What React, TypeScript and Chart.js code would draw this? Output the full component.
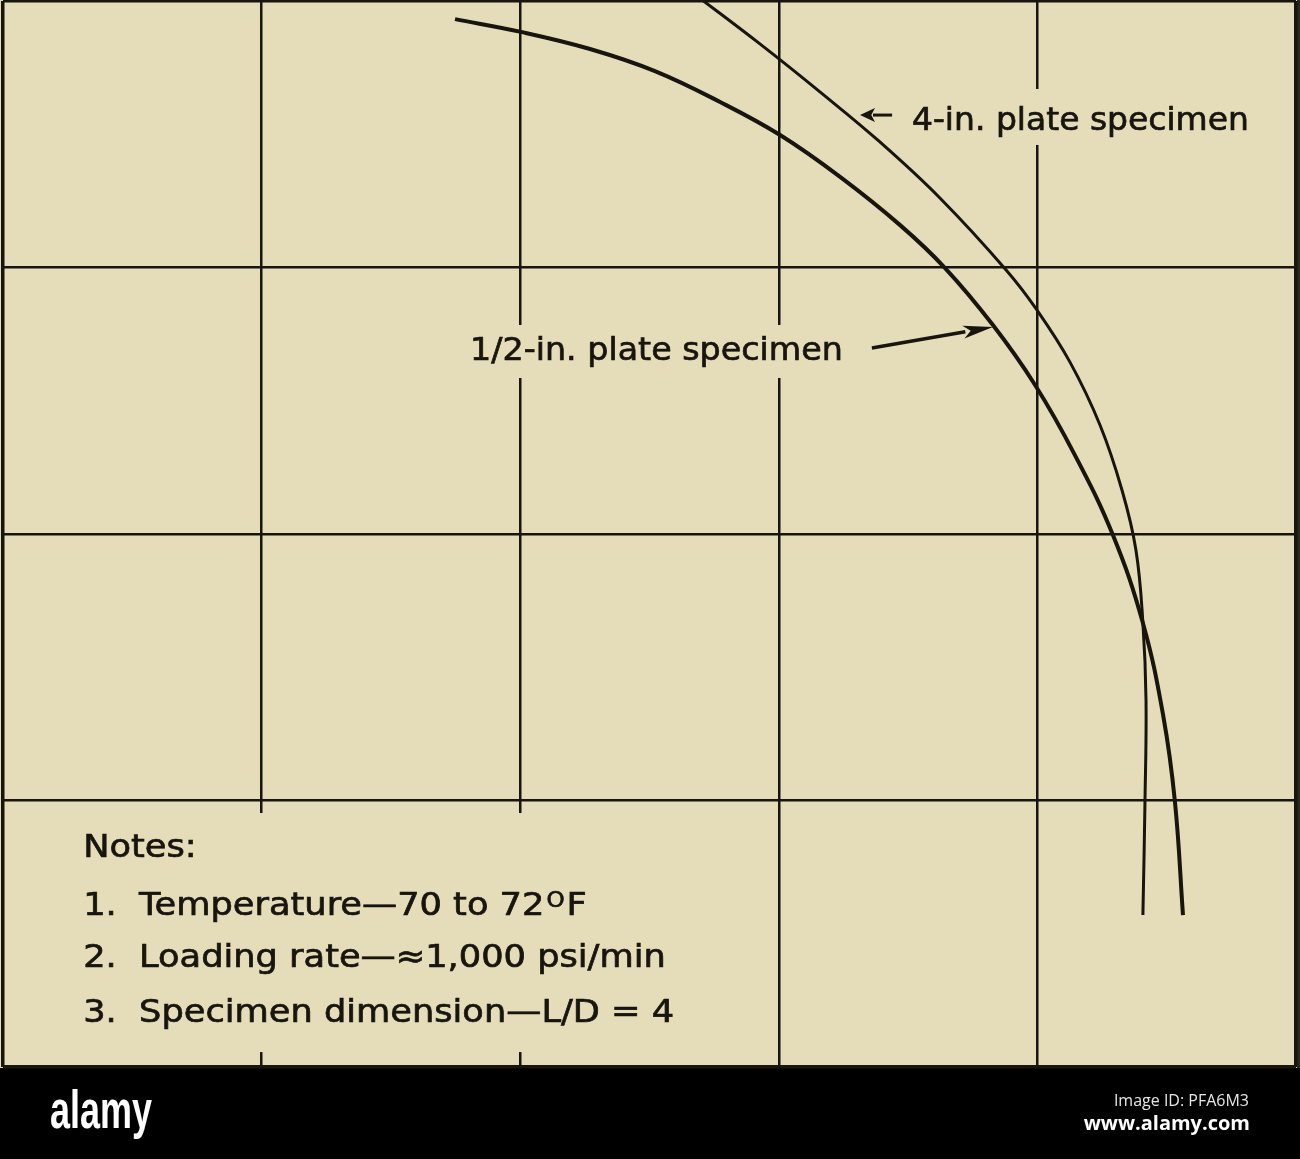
import React, { useEffect, useRef } from "react";
import { Chart, registerables } from "chart.js";

Chart.register(...registerables);

// ---- Data (grid units: 5 columns x 4 rows, no numeric labels in source) ----
const halfInX = [1.748, 2.003, 2.270, 2.521, 2.773, 3.005, 3.237, 3.469, 3.643, 3.828, 3.991, 4.145, 4.292, 4.408, 4.486, 4.532, 4.563];
const halfInY = [3.932, 3.884, 3.820, 3.737, 3.621, 3.497, 3.340, 3.159, 2.998, 2.784, 2.559, 2.296, 1.996, 1.666, 1.321, 0.994, 0.570];
const fourInX = [2.657, 2.927, 3.159, 3.391, 3.623, 3.879, 3.998, 4.126, 4.242, 4.327, 4.381, 4.408, 4.420, 4.416, 4.408];
const fourInY = [4.038, 3.839, 3.659, 3.471, 3.261, 2.991, 2.841, 2.645, 2.409, 2.165, 1.940, 1.666, 1.377, 0.994, 0.570];

const X_MIN = 0, X_MAX = 5;
const Y_MIN = 0, Y_MAX = 4;

const halfInLabel = "1/2-in. plate specimen";
const fourInLabel = "4-in. plate specimen";
const notesTitle = "Notes:";
const note1Main = "1.  Temperature\u201470 to 72";
const note1Sup = "O";
const note1Tail = "F";
const note2 = "2.  Loading rate\u2014\u22481,000 psi/min";
const note3 = "3.  Specimen dimension\u2014L/D = 4";

const BEIGE = "#e5ddba";
const INK = "#17150e";

function App() {
  const ref = useRef<HTMLCanvasElement | null>(null);

  useEffect(() => {
    const canvas = ref.current!;
    const font = "'DejaVu Sans', 'Open Sans', sans-serif";

    const fit = (ctx: CanvasRenderingContext2D, t: string, x: number, y: number, s: number, bold = 0.7) => {
      ctx.save();
      ctx.translate(x, y);
      ctx.scale(s, 1);
      ctx.fillText(t, 0, 0);
      if (bold > 0) {
        ctx.lineWidth = bold;
        ctx.strokeStyle = ctx.fillStyle as string;
        ctx.strokeText(t, 0, 0);
      }
      ctx.restore();
      return ctx.measureText(t).width * s;
    };

    const arrow = (ctx: CanvasRenderingContext2D, x1: number, y1: number, x2: number, y2: number, len: number, half: number, lw: number) => {
      const a = Math.atan2(y2 - y1, x2 - x1);
      const bx = x2 - Math.cos(a) * len, by = y2 - Math.sin(a) * len;
      ctx.save();
      ctx.strokeStyle = INK;
      ctx.fillStyle = INK;
      ctx.lineWidth = lw;
      ctx.beginPath();
      ctx.moveTo(x1, y1);
      ctx.lineTo(bx + Math.cos(a) * 2, by + Math.sin(a) * 2);
      ctx.stroke();
      ctx.beginPath();
      ctx.moveTo(x2, y2);
      ctx.lineTo(bx + Math.sin(a) * half, by - Math.cos(a) * half);
      ctx.lineTo(bx + Math.cos(a) * len * 0.25, by + Math.sin(a) * len * 0.25);
      ctx.lineTo(bx - Math.sin(a) * half, by + Math.cos(a) * half);
      ctx.closePath();
      ctx.fill();
      ctx.restore();
    };

    const decor = {
      id: "decor",
      beforeDraw(chart: any) {
        const ctx = chart.ctx as CanvasRenderingContext2D;
        const bottom = chart.chartArea.bottom;
        ctx.save();
        ctx.fillStyle = BEIGE;
        ctx.fillRect(0, 0, chart.width, bottom + 1);
        ctx.fillStyle = "#000";
        ctx.fillRect(0, bottom + 1, chart.width, chart.height - bottom);
        ctx.fillStyle = "#2a281f";
        ctx.fillRect(chart.chartArea.right + 1, 0, chart.width - chart.chartArea.right, bottom + 1);
        ctx.restore();
      },
      beforeDatasetsDraw(chart: any) {
        const ctx = chart.ctx as CanvasRenderingContext2D;
        const xs = chart.scales.x, ys = chart.scales.y;
        const px = (v: number) => xs.getPixelForValue(v);
        const py = (v: number) => ys.getPixelForValue(v);
        ctx.save();
        ctx.font = `32px ${font}`;
        ctx.textBaseline = "alphabetic";

        // 4-in label
        const f4x = px(3.515), f4y = py(3.516), f4r = px(4.818);
        ctx.fillStyle = BEIGE;
        ctx.fillRect(f4x - 14, f4y - 41, f4r - f4x + 22, 56);
        ctx.fillStyle = INK;
        fit(ctx, fourInLabel, f4x, f4y, (f4r - f4x) / ctx.measureText(fourInLabel).width);
        arrow(ctx, px(3.438), py(3.572), px(3.314), py(3.572), 15, 7, 3);

        // 1/2-in label
        const hx = px(1.806), hy = py(2.653), hr = px(3.248);
        ctx.fillStyle = BEIGE;
        ctx.fillRect(hx - 14, hy - 35, hr - hx + 22, 53);
        ctx.fillStyle = INK;
        fit(ctx, halfInLabel, hx, hy, (hr - hx) / ctx.measureText(halfInLabel).width);
        arrow(ctx, px(3.360), py(2.698), px(3.828), py(2.777), 30, 6.5, 3.5);

        // Notes
        ctx.fillStyle = BEIGE;
        ctx.fillRect(px(0.22), py(0.953), px(2.7) - px(0.22), py(0.056) - py(0.953));
        ctx.fillStyle = INK;
        const s = 591 / ctx.measureText(note3).width;
        const nx = px(0.31);
        fit(ctx, notesTitle, nx, py(0.788), s);
        const w1 = fit(ctx, note1Main, nx, py(0.570), s);
        ctx.font = `21px ${font}`;
        const w2 = fit(ctx, note1Sup, nx + w1 + 2, py(0.570) - 8, s);
        ctx.font = `32px ${font}`;
        fit(ctx, note1Tail, nx + w1 + w2 + 4, py(0.570), s);
        fit(ctx, note2, nx, py(0.375), s);
        fit(ctx, note3, nx, py(0.169), s);
        ctx.restore();
      },
      afterDraw(chart: any) {
        const ctx = chart.ctx as CanvasRenderingContext2D;
        ctx.save();
        ctx.fillStyle = "#fff";
        ctx.font = "bold 54px 'Liberation Sans Narrow', 'Liberation Sans', sans-serif";
        const lw = ctx.measureText("alamy").width;
        fit(ctx, "alamy", 50, 1128, 102 / lw, 0);
        ctx.textAlign = "right";
        ctx.fillStyle = "#e6e6e6";
        ctx.font = "16px 'Open Sans', sans-serif";
        ctx.fillText("Image ID: PFA6M3", 1249, 1106);
        ctx.fillStyle = "#fff";
        ctx.font = "bold 20px 'Open Sans', sans-serif";
        ctx.fillText("www.alamy.com", 1250, 1130);
        ctx.restore();
      },
    };

    const gridWidth = (c: any) => (c.index === 0 || c.index === c.scale.ticks.length - 1 ? 3.5 : 2.5);

    const chart = new Chart(canvas, {
      type: "scatter",
      data: {
        datasets: [
          {
            label: halfInLabel,
            data: halfInX.map((x, i) => ({ x, y: halfInY[i] })),
            showLine: true,
            borderColor: INK,
            borderWidth: 4,
            pointRadius: 0,
            tension: 0.4,
          },
          {
            label: fourInLabel,
            data: fourInX.map((x, i) => ({ x, y: fourInY[i] })),
            showLine: true,
            borderColor: INK,
            borderWidth: 3,
            pointRadius: 0,
            tension: 0.4,
          },
        ],
      },
      options: {
        animation: false,
        responsive: false,
        devicePixelRatio: 1,
        layout: { padding: { left: 3, right: 4, top: 1, bottom: 92 } },
        plugins: { legend: { display: false }, tooltip: { enabled: false } },
        scales: {
          x: {
            type: "linear",
            min: X_MIN,
            max: X_MAX,
            ticks: { display: false, stepSize: 1 },
            grid: { color: INK, lineWidth: gridWidth, drawTicks: false },
            border: { display: false },
          },
          y: {
            type: "linear",
            min: Y_MIN,
            max: Y_MAX,
            ticks: { display: false, stepSize: 1 },
            grid: { color: INK, lineWidth: gridWidth, drawTicks: false },
            border: { display: false },
          },
        },
      },
      plugins: [decor],
    });
    return () => chart.destroy();
  }, []);

  return (
    <div style={{ position: "absolute", left: 0, top: 0, width: 1300, height: 1159 }}>
      <canvas ref={ref} width={1300} height={1159} style={{ display: "block" }} />
    </div>
  );
}

export default App;
